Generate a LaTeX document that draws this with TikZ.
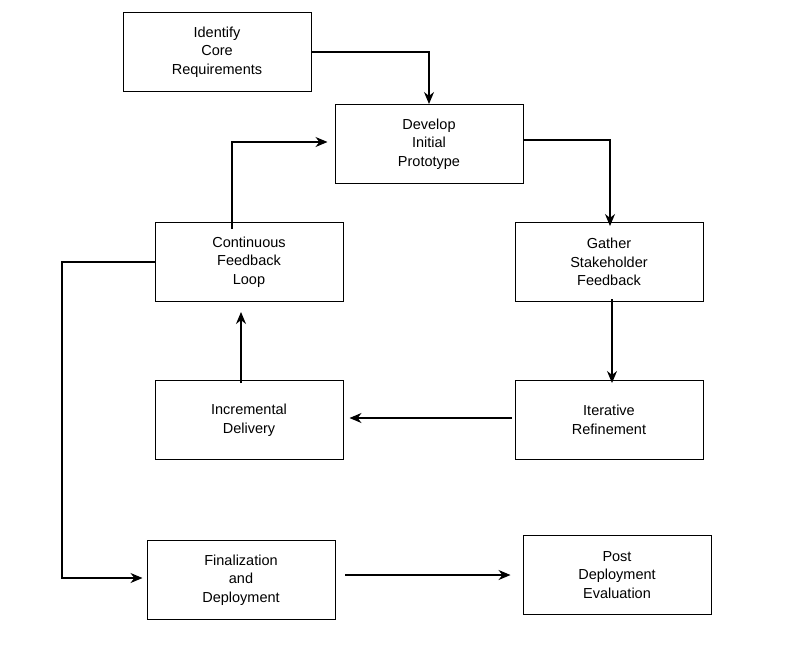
\documentclass[tikz,border=0pt]{standalone}
\usepackage{fontspec}
\setmainfont{Liberation Sans}
\usetikzlibrary{arrows.meta}
\begin{document}
\begin{tikzpicture}[x=1pt,y=-1pt,
  box/.style={draw,line width=1pt,minimum width=188pt,minimum height=79pt,align=center,font=\fontsize{14.5}{18.5}\selectfont,inner sep=0pt},
  arr/.style={line width=1.1pt,-{Stealth[length=12pt,width=10pt]}}]
\useasboundingbox (0,0) rectangle (800,662);
\node[box] (a) at (217,52) {Identify\\Core\\Requirements};
\node[box] (b) at (429,144) {Develop\\Initial\\Prototype};
\node[box] (c) at (249,262) {Continuous\\Feedback\\Loop};
\node[box] (d) at (609,262) {Gather\\Stakeholder\\Feedback};
\node[box] (e) at (249,420) {Incremental\\Delivery};
\node[box] (f) at (609,420) {Iterative\\Refinement};
\node[box] (g) at (241,580) {Finalization\\and\\Deployment};
\node[box] (h) at (617,575) {Post\\Deployment\\Evaluation};
\coordinate (a1) at (429,52);
\coordinate (b1) at (610,140);
\coordinate (c1) at (232,142);
\coordinate (c2) at (62,262);
\coordinate (c3) at (62,578);
\coordinate (g1) at (345,575);
\draw[arr] (a.east) -- (a1) -- (b.north);
\draw[arr] (b.east |- b1) -- (b1) -- ([yshift=-4pt]d.north -| b1);
\draw[arr] ([xshift=3pt,yshift=3pt]d.south) -- ([xshift=3pt,yshift=-3pt]f.north);
\draw[arr] ([xshift=-3pt,yshift=2pt]f.west) -- ([xshift=6pt,yshift=2pt]e.east);
\draw[arr] ([xshift=-8pt,yshift=-3pt]e.north) -- ([xshift=-8pt,yshift=-10pt]c.south);
\draw[arr] ([xshift=-17pt,yshift=-7pt]c.north) -- (c1) -- ([xshift=-7pt]c1 -| b.west);
\draw[arr] (c.west) -- (c2) -- (c3) -- ([xshift=-4pt]c3 -| g.west);
\draw[arr] (g1) -- ([xshift=-12pt]g1 -| h.west);
\end{tikzpicture}
\end{document}
